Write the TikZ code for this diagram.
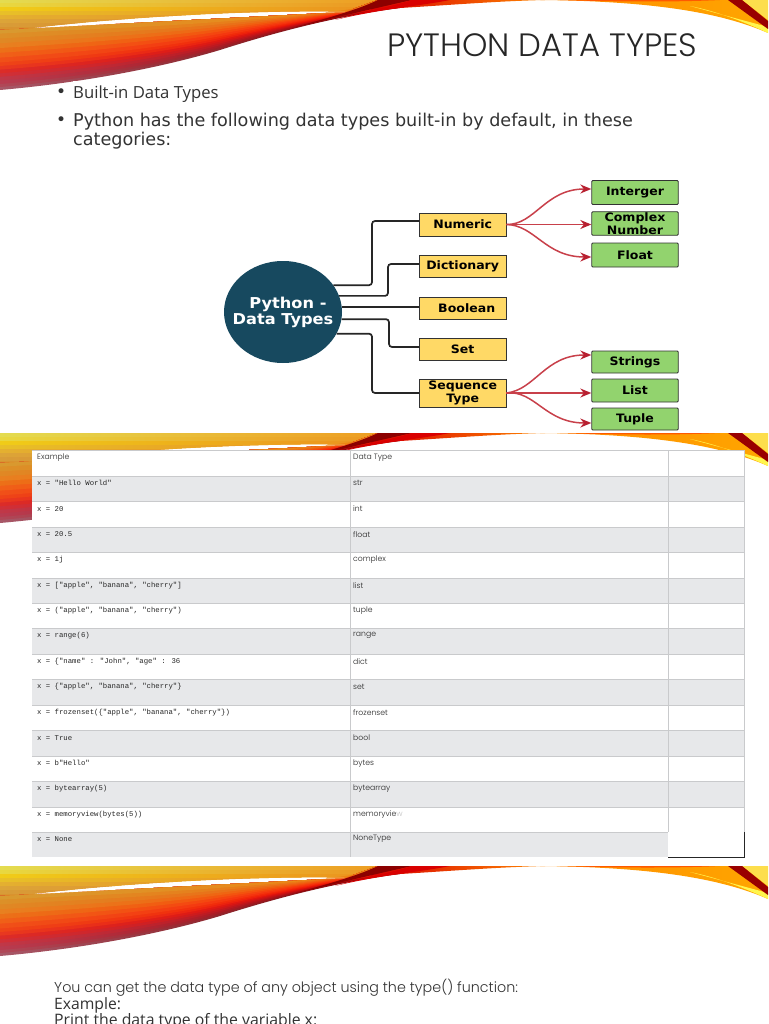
\documentclass[tikz,border=0pt]{standalone}
\usepackage{fontspec}
\usetikzlibrary{arrows.meta,shapes.geometric,calc}
\setmainfont{Open Sans}
\newfontfamily\titlefont{Poppins Light}
\newfontfamily\gothfont{Poppins Light}
\newfontfamily\diagfont[FakeStretch=1.08]{DejaVu Sans}
\newfontfamily\codefont{Liberation Mono}
\newfontfamily\bodyfont{DejaVu Sans}
\newfontfamily\narrowfont{Open Sans}
\definecolor{boxyellow}{HTML}{FFD966}
\definecolor{boxgreen}{HTML}{92D36E}
\definecolor{discblue}{HTML}{17495F}
\definecolor{redline}{HTML}{C8404A}
\definecolor{redtip}{HTML}{B82030}
\definecolor{rowgrey}{HTML}{E7E8EA}
\definecolor{rulegrey}{HTML}{C9CACC}
\definecolor{inkgrey}{HTML}{333333}
\newcommand{\fsz}[1]{\fontsize{#1}{#1}\selectfont}
\newcommand{\banner}{%
  % upper band, in horizontal streaks
  \begin{scope}
    \clip (0,0) -- (385,0) -- (345,12) .. controls (250,10) and (120,18) .. (35,28) -- (0,34) -- cycle;
    \foreach \yy/\cl/\cr in {0/E4DC50/EE9A20,4/E8D840/EC9420,8/F0CC18/EA8E20,12/E8C028/EA8820,16/E4B030/E88420,20/DCA438/E88020,24/D89C38/E87C18,28/D89430/E87818,32/D88C2C/E87418}{
      \definecolor{tmpL}{HTML}{\cl}\definecolor{tmpR}{HTML}{\cr}
      \shade[left color=tmpL,right color=tmpR] (0,\yy) rectangle (400,\yy+4.3);
    }
  \end{scope}
  % lower band, painted from its lower edge upward
  \foreach \t/\cl/\cr in {1.00/A85868/7A0000,0.95/B04858/8A0000,0.90/B83C50/A00000,0.84/C03848/B80000,0.78/D03038/CC0400,0.72/DC2C28/E00800,0.66/E83820/EE1000,0.60/EE4418/F41800,0.54/F05018/F82408,0.46/F06018/F83008,0.38/EC7018/F84008,0.30/E88020/F45008,0.22/E08824/F06010,0.14/DC9028/F07010,0.06/D89A30/F08010}{
    \definecolor{tmpL}{HTML}{\cl}\definecolor{tmpR}{HTML}{\cr}
    \shade[left color=tmpL,right color=tmpR]
      (0,{30+\t*60}) .. controls (80,{26+\t*57}) and (160,{24+\t*44}) .. (220,{20+\t*30})
      .. controls (270,{17+\t*17}) and (335,{14+\t*2}) .. (400,{0+\t*8})
      -- (400,0) -- (378,0) -- (345,12) -- (0,30) -- cycle;
  }
  % white sliver between the bands
  \fill[white] (35,28) .. controls (120,18) and (250,10) .. (345,12)
    .. controls (250,14) and (120,24) .. (35,28) -- cycle;
  % crossing strand and the band running to the right
  \shade[left color=red!85!black,right color=orange!95!yellow]
    (385,0) -- (545,0) .. controls (500,1) and (450,5) .. (400,8) .. controls (390,9) and (380,9) .. (370,10) -- cycle;
  \fill[red!55!black] (296,27) .. controls (320,20) and (355,11) .. (378,0) -- (412,0)
    .. controls (385,6) and (350,14) .. (296,27) -- cycle;
  \fill[red!85!black] (335,20) .. controls (355,14) and (385,8) .. (412,0) -- (450,0)
    .. controls (420,6) and (380,9) .. (335,20) -- cycle;
  % right-hand band and corner
  \shade[left color=orange!90!yellow,right color=orange!70!yellow]
    (540,0) -- (768,0) -- (768,33) .. controls (720,12) and (650,1) .. (540,0) -- cycle;
  \fill[orange!70!red] (560,0) -- (720,0) .. controls (680,2) and (620,2) .. (560,0) -- cycle;
  \fill[yellow!70!white] (690,6) -- (768,27) -- (768,33) .. controls (740,20) and (715,11) .. (690,6) -- cycle;
  \fill[yellow!70!orange!70!white] (742,0) -- (768,0) -- (768,20) -- cycle;
  \fill[red!60!black] (728,0) -- (742,0) -- (768,21) -- (768,29) -- cycle;
}
\tikzset{
  ybox/.style={draw=inkgrey,line width=0.9pt,fill=boxyellow,minimum width=86.5pt,inner sep=0pt,align=center,font=\diagfont\bfseries\fsz{11.6}},
  gbox/.style={draw=inkgrey,line width=0.9pt,fill=boxgreen,rounded corners=1pt,minimum width=86.5pt,inner sep=0pt,align=center,font=\diagfont\bfseries\fsz{11.6}},
  disc/.style={ellipse,fill=discblue,minimum width=118pt,minimum height=102pt,inner sep=0pt},
  disctext/.style={text=white,inner sep=0pt,align=center,font=\diagfont\bfseries\fsz{15}},
  blackconn/.style={draw=black!85,line width=1.7pt,rounded corners=3pt},
  redconn/.style={draw=redline,line width=1.5pt,-{Stealth[length=11pt,width=9pt,color=redtip]}},
  celltext/.style={anchor=west,inner sep=0pt,text=black!85},
  codecell/.style={celltext,font=\codefont\fsz{7.3}},
  typecell/.style={celltext,font=\gothfont\fsz{7.7}},
  bullet/.style={anchor=west,inner sep=0pt,text=inkgrey}
}
\begin{document}
\begin{tikzpicture}[x=1pt,y=-1pt]
\useasboundingbox (0,0) rectangle (768,1024);
\fill[white] (0,0) rectangle (768,1024);
% ---- first slide
\banner
\fill[white] (73,81) rectangle (640,150);
\node[anchor=west,inner sep=0pt,text=black!85,font=\titlefont\fsz{32.3}] (title) at (387,45.5) {PYTHON DATA TYPES};
\node[bullet,font=\bodyfont\fsz{17}] (b1mark) at (56,93.5) {•};
\node[bullet,font=\narrowfont\fsz{16.7}] (b1) at (73,94.5) {Built-in Data Types};
\node[bullet,font=\bodyfont\fsz{17}] (b2mark) at (56,121.5) {•};
\node[bullet,font=\bodyfont\fsz{17.6}] (b2) at (73,121.5) {Python has the following data types built-in by default, in these};
\node[bullet,font=\bodyfont\fsz{17.6}] (b3) at (73,141) {categories:};
% ---- diagram
\node[disc,label={[disctext]center:\hspace*{10pt}Python -\\[1pt]Data Types}] (py) at (283,312) {};
\node[ybox,minimum height=23pt] (numeric) at (462.7,224.5) {Numeric};
\node[ybox,minimum height=22pt] (dict) at (462.7,266) {Dictionary};
\node[ybox,minimum height=22pt] (bool) at (462.7,308) {\hspace*{8pt}Boolean};
\node[ybox,minimum height=22pt] (setbox) at (462.7,349) {Set};
\node[ybox,minimum height=28pt] (seq) at (462.7,393) {Sequence\\[1pt]Type};
\node[gbox,minimum height=24pt] (inter) at (635,192.5) {Interger};
\node[gbox,minimum height=23.5pt] (complex) at (635,223.5) {Complex\\[1pt]Number};
\node[gbox,minimum height=24pt] (float) at (635,255) {Float};
\node[gbox,minimum height=22pt] (strings) at (635,362) {Strings};
\node[gbox,minimum height=23pt] (listbox) at (635,390.5) {List};
\node[gbox,minimum height=22pt] (tuple) at (635,419) {Tuple};
\draw[blackconn] (py.28) -| (372,221) -- ([yshift=3.5pt]numeric.west);
\draw[blackconn] (py.16) -| (388,264) -- ([yshift=2pt]dict.west);
\draw[blackconn] (py.5) -- (py.5 -| bool.west);
\draw[blackconn] (py.-7) -| (389,347) -- ([yshift=2pt]setbox.west);
\draw[blackconn] (py.-22) -| (372,393) -- (seq.west);
\draw[redconn] (numeric.east) .. controls (535,225) and (545,189) .. ([yshift=3.5pt]inter.west);
\draw[redconn] (numeric.east) -- (complex.west |- numeric.east);
\draw[redconn] (numeric.east) .. controls (535,225) and (545,257) .. ([yshift=-2pt]float.west);
\draw[redconn] (seq.east) .. controls (535,390) and (545,355) .. ([yshift=7pt]strings.west);
\draw[redconn] (seq.east) -- (listbox.west |- seq.east);
\draw[redconn] (seq.east) .. controls (535,390) and (545,423) .. ([yshift=-4pt]tuple.west);
% ---- second slide
\fill[white] (0,433) rectangle (768,866);
\begin{scope}[shift={(0,433)}]\banner\end{scope}
\fill[white] (32,450) rectangle (744,476);
\foreach \i/\ya/\yb/\code/\typ in {
 1/476/501.5/{x = "Hello World"}/{str},
 2/501.5/527/{x = 20}/{int},
 3/527/552.5/{x = 20.5}/{float},
 4/552.5/578/{x = 1j}/{complex},
 5/578/603/{x = ["apple", "banana", "cherry"]}/{list},
 6/603/628.5/{x = ("apple", "banana", "cherry")}/{tuple},
 7/628.5/654/{x = range(6)}/{range},
 8/654/679.5/{x = \{"name" : "John", "age" : 36}/{dict},
 9/679.5/705/{x = \{"apple", "banana", "cherry"\}}/{set},
 10/705/730.5/{x = frozenset(\{"apple", "banana", "cherry"\})}/{frozenset},
 11/730.5/756/{x = True}/{bool},
 12/756/781.5/{x = b"Hello"}/{bytes},
 13/781.5/807/{x = bytearray(5)}/{bytearray},
 14/807/832/{x = memoryview(bytes(5))}/{memoryvie{\color{black!25}w}},
 15/832/857/{x = None}/{NoneType}}{
  \ifodd\i \fill[rowgrey] (32,\ya) rectangle (744,\yb); \else \fill[white] (32,\ya) rectangle (744,\yb); \fi
  \draw[rulegrey,line width=0.9pt] (32,\ya) -- (744,\ya);
  \node[codecell] (code\i) at (37,\ya+7.2) {\code};
  \node[typecell] (type\i) at (353,\ya+7.2) {\typ};
}
\node[typecell] (headA) at (37,458) {Example};
\node[typecell] (headB) at (353,458) {Data Type};
\draw[rulegrey,line width=0.9pt] (32,450) -- (744,450);
\draw[rulegrey,line width=0.9pt] (350,450) -- (350,857);
\draw[rulegrey,line width=0.9pt] (668,450) -- (668,832);
\draw[rulegrey,line width=0.9pt] (744,450) -- (744,832);
\fill[white] (668,832) rectangle (744,857);
\draw[black!85,line width=1pt] (668,857) -- (744,857) -- (744,832);
% ---- third slide
\fill[white] (0,866) rectangle (768,1024);
\begin{scope}[shift={(0,866)}]\banner\end{scope}
\node[bullet,font=\gothfont\fsz{14.3}] (t1) at (54,988) {You can get the data type of any object using the type() function:};
\node[bullet,font=\narrowfont\fsz{15.7}] (t2) at (54,1005.5) {Example:};
\node[bullet,font=\narrowfont\fsz{15.8}] (t3) at (54,1021.5) {Print the data type of the variable x:};
\end{tikzpicture}
\end{document}
